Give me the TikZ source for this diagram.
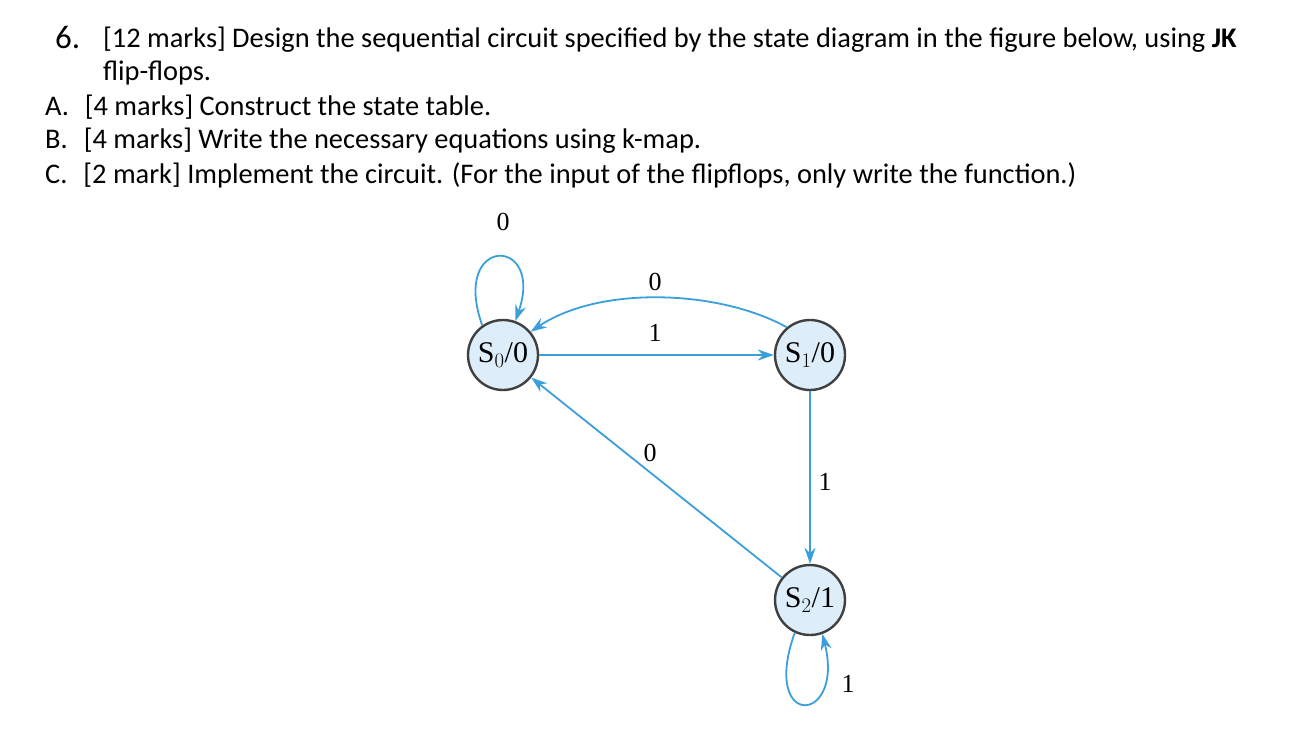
\documentclass[tikz,border=0pt]{standalone}
\usepackage{fontspec}
\setmainfont{Carlito}
\newfontfamily\dfont{Liberation Serif}
\usetikzlibrary{arrows.meta}
\definecolor{arr}{HTML}{3A9FDB}
\definecolor{stfill}{HTML}{DDEEFA}
\begin{document}
\begin{tikzpicture}[x=1pt,y=-1pt,
  txt/.style={anchor=west,inner sep=0,font=\fontsize{28.4}{28}\selectfont},
  st/.style={circle,draw=black!75,line width=2.4pt,fill=stfill,minimum size=70,inner sep=0,font=\dfont\fontsize{30}{30}\selectfont},
  lab/.style={font=\dfont\fontsize{26}{26}\selectfont,inner sep=1},
  tr/.style={draw=arr,line width=1.8pt,-{Stealth[length=16,width=11]}}]
\useasboundingbox (0,0) rectangle (1289,742);
\node[txt,font=\fontsize{33}{33}\selectfont] (n6) at (55,37) {6.};
\node[txt] (l1) at (103,40) {[12 marks] Design the sequential circuit specified by the state diagram in the figure below, using \textbf{JK}};
\node[txt] (l2) at (103,73) {flip-flops.};
\node[txt] (la) at (45,107) {A.\hspace{16pt}[4 marks] Construct the state table.};
\node[txt] (lb) at (45,141) {B.\hspace{16pt}[4 marks] Write the necessary equations using k-map.};
\node[txt] (lc) at (45,175) {C.\hspace{16pt}[2 mark] Implement the circuit. (For the input of the flipflops, only write the function.)};
\node[st] (s0) at (503,355) {S$_0$/0};
\node[st] (s1) at (810,355) {S$_1$/0};
\node[st] (s2) at (810,600) {S$_2$/1};
\draw[tr] (s0.125) .. controls (450,235) and (545,235) .. (s0.70);
\node[lab] (t0) at (503,222) {0};
\draw[tr] (s0) -- (s1);
\node[lab] (t1) at (655,333) {1};
\draw[tr] (s1.130) .. controls (720,290) and (600,285) .. (s0.40);
\node[lab] (t2) at (655,282) {0};
\draw[tr] (s1) -- (s2);
\node[lab] (t3) at (825,482) {1};
\draw[tr] (s2) -- (s0);
\node[lab] (t4) at (650,453) {0};
\draw[tr] (s2.245) .. controls (760,730) and (845,725) .. (s2.290);
\node[lab] (t5) at (848,684) {1};
\end{tikzpicture}
\end{document}
